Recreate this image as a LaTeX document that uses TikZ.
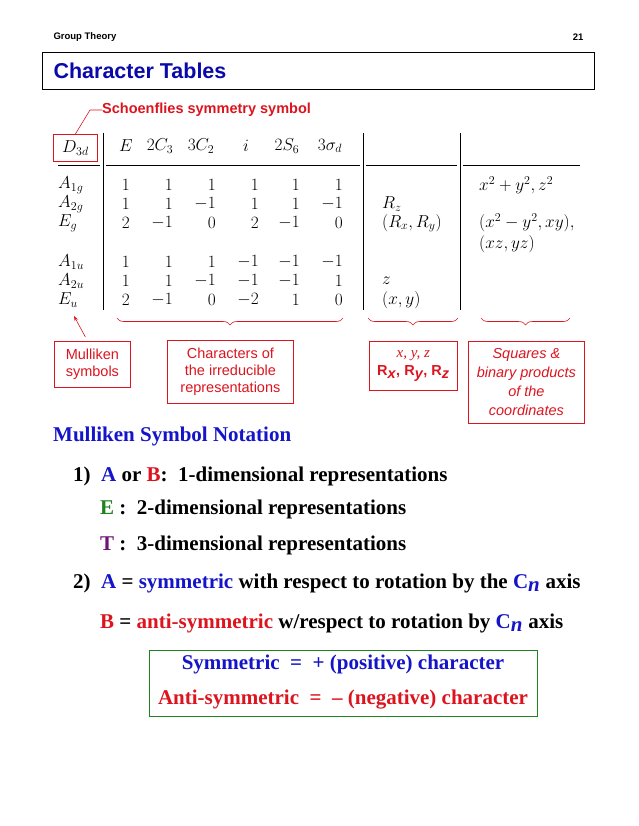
\documentclass[tikz,border=0pt]{standalone}
\usepackage{fontspec}
\setmainfont{Liberation Serif}
\setsansfont{Liberation Sans}
\usetikzlibrary{decorations.pathreplacing,arrows.meta}
\definecolor{myred}{RGB}{220,20,30}
\definecolor{myblue}{RGB}{20,20,200}
\definecolor{mygreen}{RGB}{30,130,30}
\definecolor{mypurple}{RGB}{110,20,120}
\definecolor{titleblue}{RGB}{10,10,170}
\begin{document}
\begin{tikzpicture}[x=1pt,y=-1pt,
  lab/.style={draw=myred,line width=0.8pt,text=myred,font=\sffamily\fontsize{14.5}{17}\selectfont,align=center,inner sep=2pt},
  tab/.style={font=\fontsize{18}{20}\selectfont,inner sep=0pt},
  num/.style={tab,anchor=east},
  rowl/.style={tab,anchor=west},
  body/.style={font=\bfseries\fontsize{21}{24}\selectfont,anchor=west,inner sep=0pt},
  brc/.style={decorate,decoration={brace,mirror,amplitude=7pt},myred,line width=0.6pt}]
\useasboundingbox (0,0) rectangle (638,826);
% header
\node[font=\sffamily\bfseries\fontsize{9.5}{11}\selectfont,anchor=west] (gt) at (50,37) {Group Theory};
\node[font=\sffamily\bfseries\fontsize{9.5}{11}\selectfont,anchor=east] (pg) at (587,37) {21};
\node[draw,line width=1pt,minimum width=552pt,minimum height=37pt,anchor=north west,inner sep=0pt] (tb) at (42,52) {};
\node[font=\sffamily\bfseries\fontsize{21.5}{24}\selectfont,text=titleblue,anchor=west] (tt) at (50,71) {Character Tables};
% schoenflies
\node[font=\sffamily\bfseries\fontsize{14.5}{17}\selectfont,text=myred,anchor=west,inner sep=0pt] (sch) at (102,110) {Schoenflies symmetry symbol};
\node[draw=myred,line width=0.8pt,minimum width=44pt,minimum height=27pt,anchor=north west,inner sep=0pt] (dbox) at (53,134) {};
\node[tab] (d3d) at (dbox.center) {$D_{3d}$};
\draw[myred,line width=0.6pt] (sch.west) -- ++(-12,0) -- (dbox.north);
% table lines
\coordinate (v1t) at (103,133); \coordinate (v1b) at (103,310);
\coordinate (v2t) at (363,133); \coordinate (v2b) at (363,310);
\coordinate (v3t) at (460,133); \coordinate (v3b) at (460,310);
\draw[line width=0.9pt] (v1t) -- (v1b) (v2t) -- (v2b) (v3t) -- (v3b);
\draw[line width=0.9pt] (58,165) -- (100,165) (106,165) -- (360,165) (366,165) -- (457,165) (463,165) -- (580,165);
% headers
\foreach \x/\t in {126/E,160/2C_3,201/3C_2,246/i,287/2S_6,330/3\sigma_d}
  \node[tab] at (\x,146) {$\t$};
% rows
\foreach \y/\l in {185/A_{1g},204/A_{2g},223/E_g,262/A_{1u},281/A_{2u},300/E_u}
  \node[rowl] at (58,\y) {$\l$};
\foreach \y/\a/\b/\c/\d/\e/\f in {185/1/1/1/1/1/1,204/1/1/-1/1/1/-1,223/2/-1/0/2/-1/0,262/1/1/1/-1/-1/-1,281/1/1/-1/-1/-1/1,300/2/-1/0/-2/1/0}{
  \node[num] at (130,\y) {$\a$};
  \node[num] at (173,\y) {$\b$};
  \node[num] at (216,\y) {$\c$};
  \node[num] at (259,\y) {$\d$};
  \node[num] at (300,\y) {$\e$};
  \node[num] at (343,\y) {$\f$};
}
\node[rowl] at (382,204) {$R_z$};
\node[rowl] at (382,223) {$(R_x, R_y)$};
\node[rowl] at (382,281) {$z$};
\node[rowl] at (382,300) {$(x, y)$};
\node[rowl] at (479,185) {$x^2+y^2, z^2$};
\node[rowl] at (479,223) {$(x^2-y^2, xy),$};
\node[rowl] at (479,244) {$(xz, yz)$};
% braces
\coordinate (b1a) at (117,318); \coordinate (b1b) at (343,318);
\coordinate (b2a) at (368,318); \coordinate (b2b) at (458,318);
\coordinate (b3a) at (481,318); \coordinate (b3b) at (570,318);
\draw[brc] (b1a) -- (b1b);
\draw[brc] (b2a) -- (b2b);
\draw[brc] (b3a) -- (b3b);
% label boxes
\node[lab,minimum width=76pt,minimum height=46pt,anchor=north west] (mul) at (54,341) {Mulliken\\symbols};
\node[lab,minimum width=126pt,minimum height=63pt,anchor=north west] (chr) at (167,340) {Characters of\\the irreducible\\representations};
\node[lab,minimum width=88pt,minimum height=49pt,anchor=north west] (xyz) at (369,341) {\textnormal{\itshape\fontsize{15}{16}\selectfont x, y, z}\\[1pt]\bfseries R$_{\textit{x}}$, R$_{\textit{y}}$, R$_{\textit{z}}$};
\node[lab,minimum width=116pt,minimum height=82pt,anchor=north west,font=\sffamily\itshape\fontsize{14.5}{19}\selectfont] (sq) at (468,341) {Squares \&\\binary products\\of the\\coordinates};
\draw[myred,line width=0.6pt,-{Stealth[length=5pt]}] (mul.north) ++(-7,-4) -- (74,316);
% notation
\node[body,text=myblue] (mt) at (53,436) {Mulliken Symbol Notation};
\node[body] (l1) at (73,476) {1)\enspace\textcolor{myblue}{A} or \textcolor{myred}{B}:\enspace 1-dimensional representations};
\node[body] (l2) at (100,509) {\textcolor{mygreen}{E} :\enspace 2-dimensional representations};
\node[body] (l3) at (100,545) {\textcolor{mypurple}{T} :\enspace 3-dimensional representations};
\node[body] (l4) at (73,583) {2)\enspace\textcolor{myblue}{A} = \textcolor{myblue}{symmetric} with respect to rotation by the \textcolor{myblue}{C$_{\textit{n}}$} axis};
\node[body] (l5) at (100,623) {\textcolor{myred}{B} = \textcolor{myred}{anti-symmetric} w/respect to rotation by \textcolor{myblue}{C$_{\textit{n}}$} axis};
\node[draw=mygreen,line width=0.8pt,minimum width=388pt,minimum height=66pt,anchor=north west,inner sep=0pt] (gb) at (149,650) {};
\node[body,anchor=center,text=myblue] (s1) at (343,664) {Symmetric \ = \ + (positive) character};
\node[body,anchor=center,text=myred] (s2) at (343,700) {Anti-symmetric \ = \ -- (negative) character};
\end{tikzpicture}
\end{document}
